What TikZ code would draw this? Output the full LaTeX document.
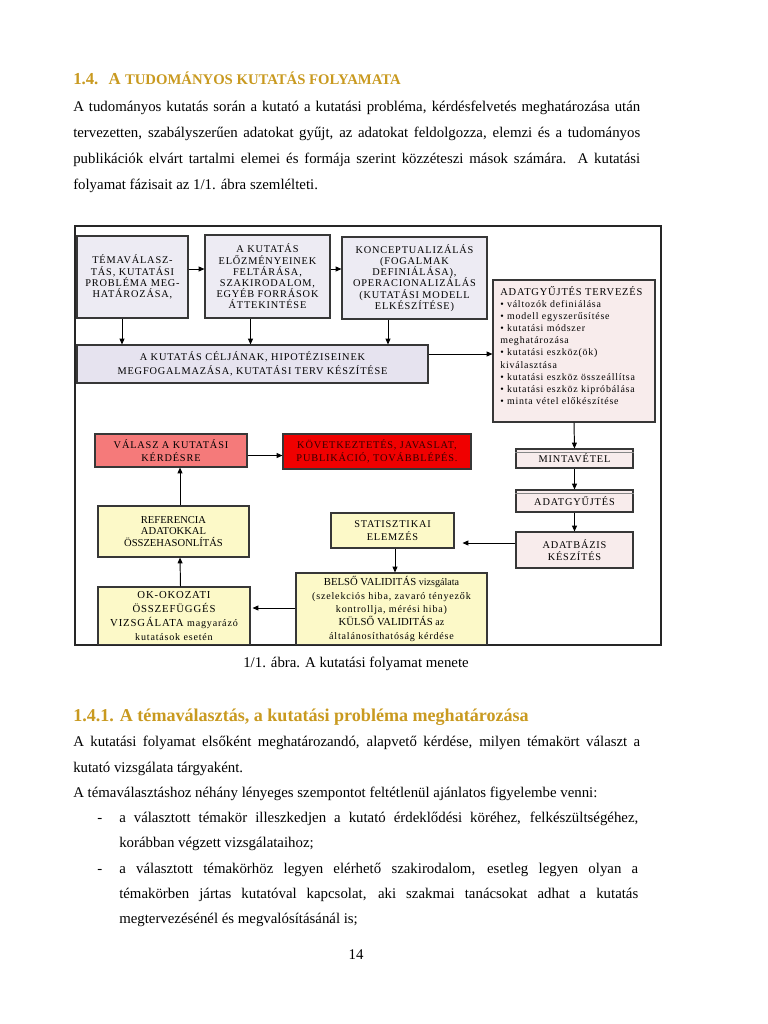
\documentclass[tikz,border=0pt]{standalone}
\usepackage{fontspec}
\setmainfont{Liberation Serif}
\newfontfamily\bxf[LetterSpace=8]{Liberation Serif}
\usetikzlibrary{arrows.meta,calc}
\newdimen\px \px=0.775pt
\definecolor{gold}{RGB}{201,154,32}
\definecolor{lav}{RGB}{237,235,243}
\definecolor{lavb}{RGB}{230,227,239}
\definecolor{pinkbg}{RGB}{248,236,236}
\definecolor{salmon}{RGB}{245,122,122}
\definecolor{redbox}{RGB}{240,0,0}
\definecolor{yel}{RGB}{252,249,200}
\definecolor{edge}{RGB}{55,55,55}
\newcommand\mybox[7]{\node[#6,minimum width={(#4-#2)*0.775pt},minimum height={(#5-#3)*0.775pt}] (#1) at ({(#2+#4)/2},{(#3+#5)/2}) {#7};}
\newcommand\lc[1]{{\fontsize{7.8}{10}\selectfont #1}}
\newcommand\jl[2]{\makebox[#1\px][s]{#2}}
\tikzset{
  body/.style={inner sep=0pt,font=\fontsize{11.5}{20}\selectfont,anchor=base west},
  boxbase/.style={draw=edge,line width=0.8pt,inner sep=0pt,align=center,font=\bxf\fontsize{8}{8.7}\selectfont},
  lavbox/.style={boxbase,fill=lav},
  pinkbox/.style={boxbase,fill=pinkbg},
  yelbox/.style={boxbase,fill=yel},
  arr/.style={-{Triangle[length=4.5pt,width=3.8pt]},line width=0.75pt,black}
}
\begin{document}
\begin{tikzpicture}[x=0.775pt,y=-0.775pt]
\useasboundingbox[fill=white] (0,0) rectangle (768,1024);

% ---- heading and first paragraph
\node[body,text=gold] (h1) at (73,84) {\bfseries\fontsize{13}{14}\selectfont 1.4.\hspace{8pt}A {\fontsize{11.4}{12}\selectfont TUDOMÁNYOS KUTATÁS FOLYAMATA}};
\node[body] (p1) at (73,111) {\jl{567}{A tudományos kutatás során a kutató a kutatási probléma, kérdésfelvetés meghatározása után}};
\node[body] (p2) at (73,137) {\jl{567}{tervezetten, szabályszerűen adatokat gyűjt, az adatokat feldolgozza, elemzi és a tudományos}};
\node[body] (p3) at (73,163) {\jl{567}{publikációk elvárt tartalmi elemei és formája szerint közzéteszi mások számára. A kutatási}};
\node[body] (p4) at (73,189) {folyamat fázisait az 1/1. ábra szemlélteti.};

% ---- diagram frame
\node[draw=black!85,line width=0.8pt,minimum width={586*0.775pt},minimum height={419*0.775pt},inner sep=0pt] (frame) at (368,435.5) {};

% ---- top row
\mybox{b1}{77}{236}{188}{318}{lavbox}{TÉMAVÁLASZ-\\TÁS, KUTATÁSI\\PROBLÉMA MEG-\\HATÁROZÁSA,}
\mybox{b2}{205}{235}{330}{318}{lavbox}{A KUTATÁS\\ELŐZMÉNYEINEK\\FELTÁRÁSA,\\SZAKIRODALOM,\\EGYÉB FORRÁSOK\\ÁTTEKINTÉSE}
\mybox{b3}{342}{237}{487}{319}{lavbox}{KONCEPTUALIZÁLÁS\\(FOGALMAK\\DEFINIÁLÁSA),\\OPERACIONALIZÁLÁS\\(KUTATÁSI MODELL\\ELKÉSZÍTÉSE)}
\mybox{b4}{77}{345}{428}{383}{lavbox,fill=lavb,font=\bxf\fontsize{8}{10.5}\selectfont}{A KUTATÁS CÉLJÁNAK, HIPOTÉZISEINEK\\MEGFOGALMAZÁSA, KUTATÁSI TERV KÉSZÍTÉSE}

% ---- right column
\mybox{b5}{493}{280}{655}{422}{pinkbox}{}
\node[inner sep=0pt,anchor=north west,align=left,font=\bxf\fontsize{7.7}{9.4}\selectfont] (b5t) at (500,286)
 {{\fontsize{8.1}{9.4}\selectfont ADATGYŰJTÉS TERVEZÉS}\\
  • változók definiálása\\
  • modell egyszerűsítése\\
  • kutatási módszer\\
  meghatározása\\
  • kutatási eszköz(ök)\\
  kiválasztása\\
  • kutatási eszköz összeállítsa\\
  • kutatási eszköz kipróbálása\\
  • minta vétel előkészítése};
\mybox{mv}{516}{449}{633}{468}{pinkbox}{\raisebox{-2pt}{MINTAVÉTEL}}
\draw[edge!60,line width=0.5pt] ([yshift=-2.6pt]mv.north west) -- ([yshift=-2.6pt]mv.north east);
\mybox{ag}{516}{490}{633}{512}{pinkbox}{\raisebox{-1.5pt}{ADATGYŰJTÉS}}
\draw[edge!60,line width=0.5pt] ([yshift=-2.6pt]ag.north west) -- ([yshift=-2.6pt]ag.north east);
\mybox{ab}{516}{532}{633}{568}{pinkbox,font=\bxf\fontsize{8}{9.5}\selectfont}{ADATBÁZIS\\KÉSZÍTÉS}

% ---- lower middle / left
\mybox{se}{331}{513}{454}{548}{yelbox,font=\bxf\fontsize{8}{10}\selectfont}{STATISZTIKAI\\ELEMZÉS}
\mybox{bv}{296}{573}{487}{645}{yelbox,font=\fontsize{8.3}{10.3}\selectfont}{BELSŐ VALIDITÁS \lc{vizsgálata}\\ {\bxf\lc{(szelekciós hiba, zavaró tényezők}}\\ {\bxf\lc{kontrollja, mérési hiba)}}\\ KÜLSŐ VALIDITÁS \lc{az}\\ {\bxf\lc{általánosíthatóság kérdése}}}
\mybox{ok}{98}{587}{250}{645}{yelbox,font=\bxf\fontsize{8.3}{10.6}\selectfont}{OK-OKOZATI\\ÖSSZEFÜGGÉS\\VIZSGÁLATA \lc{magyarázó}\\ \lc{kutatások esetén}}
\mybox{ref}{98}{506}{249}{557}{yelbox,font=\fontsize{8.2}{9.1}\selectfont}{REFERENCIA\\ADATOKKAL\\ÖSSZEHASONLÍTÁS}
\mybox{va}{95}{434}{247}{467}{boxbase,fill=salmon,font=\bxf\fontsize{8}{9.6}\selectfont}{VÁLASZ A KUTATÁSI\\KÉRDÉSRE}
\mybox{ko}{283}{434}{471}{469}{boxbase,fill=redbox,text=black!80!red,font=\bxf\fontsize{8}{9.6}\selectfont}{KÖVETKEZTETÉS, JAVASLAT,\\PUBLIKÁCIÓ, TOVÁBBLÉPÉS.}

% redraw frame bottom over the clipped boxes
\draw[black!85,line width=0.8pt] (frame.south west) -- (frame.south east);

% ---- connectors
\draw[arr] ([yshift=6.2pt]b1.east) -- ([yshift=6.2pt]b1.east -| b2.west);
\draw[arr] ([yshift=6.2pt]b1.east -| b2.east) -- ([yshift=6.2pt]b1.east -| b3.west);
\draw[arr] ([xshift={-10.5*0.775pt}]b1.south) -- ([xshift={-10.5*0.775pt}]b1.south |- b4.north);
\draw[arr] ([xshift={-17*0.775pt}]b2.south) -- ([xshift={-17*0.775pt}]b2.south |- b4.north);
\draw[arr] ([xshift={-26.5*0.775pt}]b3.south) -- ([xshift={-26.5*0.775pt}]b3.south |- b4.north);
\draw[arr] ([yshift={-3*0.775pt}]b5.west -| b4.east) -- ([yshift={-3*0.775pt}]b5.west);
\draw[arr] (b5.south) -- (mv.north);
\draw[arr] (mv.south) -- (ag.north);
\draw[arr] (ag.south) -- (ab.north);
\draw[arr] ([yshift={7*0.775pt}]ab.west) -- ([xshift={8*0.775pt},yshift={7*0.775pt}]ab.west -| se.east);
\draw[arr] ([xshift={2.5*0.775pt}]se.south) -- ([xshift={2.5*0.775pt}]se.south |- bv.north);
\draw[arr] ([yshift={1*0.775pt}]bv.west) -- ([xshift={2*0.775pt},yshift={1*0.775pt}]bv.west -| ok.east);
\draw[arr] ([xshift={6.5*0.775pt}]ok.north) -- ([xshift={6.5*0.775pt}]ref.south);
\draw[arr] ([xshift={6.5*0.775pt}]ref.north) -- ([xshift={6.5*0.775pt}]ref.north |- va.south);
\draw[arr] ([yshift={-5*0.775pt}]va.east) -- ([yshift={-5*0.775pt}]va.east -| ko.west);

% ---- caption and following text
\node[body,anchor=base] (cap) at (356,667) {1/1. ábra. A kutatási folyamat menete};
\node[body,text=gold] (h2) at (73,721) {\bfseries\fontsize{14}{16}\selectfont 1.4.1. A témaválasztás, a kutatási probléma meghatározása};
\node[body] (q1) at (73,746) {\jl{567}{A kutatási folyamat elsőként meghatározandó, alapvető kérdése, milyen témakört választ a}};
\node[body] (q2) at (73,772) {kutató vizsgálata tárgyaként.};
\node[body] (q3) at (73,797) {A témaválasztáshoz néhány lényeges szempontot feltétlenül ajánlatos figyelembe venni:};
\node[body] (d1) at (97,822) {-};
\node[body] (r1) at (119,822) {\jl{519}{a választott témakör illeszkedjen a kutató érdeklődési köréhez, felkészültségéhez,}};
\node[body] (r2) at (119,847) {korábban végzett vizsgálataihoz;};
\node[body] (d2) at (97,873) {-};
\node[body] (r3) at (119,873) {\jl{519}{a választott témakörhöz legyen elérhető szakirodalom, esetleg legyen olyan a}};
\node[body] (r4) at (119,898) {\jl{519}{témakörben jártas kutatóval kapcsolat, aki szakmai tanácsokat adhat a kutatás}};
\node[body] (r5) at (119,923) {megtervezésénél és megvalósításánál is;};
\node[body,anchor=base] (pg) at (356,959) {14};
\end{tikzpicture}
\end{document}
